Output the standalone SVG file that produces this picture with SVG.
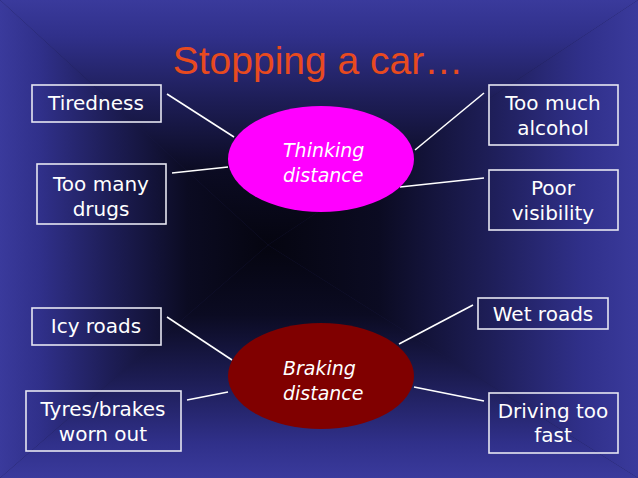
<svg xmlns="http://www.w3.org/2000/svg" width="638" height="478" viewBox="0 0 638 478">
<style>
.box{fill:none;stroke:#E6E6F2;stroke-width:1.6}
.lbl{font-family:"DejaVu Sans",sans-serif;font-size:20px;fill:#FFFFFF;text-anchor:middle}
.el{font-family:"DejaVu Sans",sans-serif;font-size:19px;font-style:italic;fill:#FFFFFF}
.con line{stroke:#FFFFFF;stroke-width:1.6}
</style>
<defs>
<linearGradient id="bg">
<stop offset="0" stop-color="#050510"/>
<stop offset="0.3" stop-color="#0B0B22"/>
<stop offset="0.6" stop-color="#1E1E58"/>
<stop offset="0.85" stop-color="#30308A"/>
<stop offset="1" stop-color="#3A3A9C"/>
</linearGradient>
<linearGradient id="gt" href="#bg" gradientUnits="userSpaceOnUse" x1="0" y1="245" x2="0" y2="0"/>
<linearGradient id="gb" href="#bg" gradientUnits="userSpaceOnUse" x1="0" y1="245" x2="0" y2="478"/>
<linearGradient id="gl" href="#bg" gradientUnits="userSpaceOnUse" x1="268" y1="0" x2="0" y2="0"/>
<linearGradient id="gr" href="#bg" gradientUnits="userSpaceOnUse" x1="268" y1="0" x2="638" y2="0"/>
</defs>
<g id="background">
<rect x="0" y="0" width="638" height="478" fill="#1A1A4A"/>
<polygon points="0,0 638,0 268,245" fill="url(#gt)"/>
<polygon points="0,478 638,478 268,245" fill="url(#gb)"/>
<polygon points="0,0 0,478 268,245" fill="url(#gl)"/>
<polygon points="638,0 638,478 268,245" fill="url(#gr)"/>
</g>
<text id="title" x="318" y="74" font-family="Liberation Sans, Arial, sans-serif" font-size="39" fill="#E84A1F" text-anchor="middle">Stopping a car…</text>
<g id="connectors" class="con">
<line x1="167" y1="94" x2="234" y2="137"/>
<line x1="172" y1="173" x2="228" y2="167"/>
<line x1="415" y1="150" x2="484" y2="93"/>
<line x1="400" y1="187" x2="484" y2="178"/>
<line x1="167" y1="317" x2="232" y2="360"/>
<line x1="187" y1="400" x2="228" y2="392"/>
<line x1="399" y1="344" x2="473" y2="305"/>
<line x1="414" y1="387" x2="484" y2="401"/>
</g>
<g id="thinking">
<ellipse cx="321" cy="159" rx="93" ry="53" fill="#FF00FF"/>
<text class="el" x="283" y="157">Thinking</text>
<text class="el" x="283" y="182">distance</text>
</g>
<g id="braking">
<ellipse cx="321" cy="376" rx="93" ry="53" fill="#800000"/>
<text class="el" x="283" y="375">Braking</text>
<text class="el" x="283" y="400">distance</text>
</g>
<g id="tiredness">
<rect class="box" x="32" y="85" width="129" height="37"/>
<text class="lbl" x="96" y="110">Tiredness</text>
</g>
<g id="drugs">
<rect class="box" x="37" y="164" width="129" height="60"/>
<text class="lbl" x="101" y="191">Too many</text>
<text class="lbl" x="101" y="216">drugs</text>
</g>
<g id="alcohol">
<rect class="box" x="489" y="85" width="129" height="60"/>
<text class="lbl" x="553" y="110">Too much</text>
<text class="lbl" x="553" y="135">alcohol</text>
</g>
<g id="visibility">
<rect class="box" x="489" y="170" width="129" height="60"/>
<text class="lbl" x="553" y="195">Poor</text>
<text class="lbl" x="553" y="220">visibility</text>
</g>
<g id="icy">
<rect class="box" x="32" y="308" width="129" height="37"/>
<text class="lbl" x="96" y="333">Icy roads</text>
</g>
<g id="tyres">
<rect class="box" x="26" y="391" width="155" height="60"/>
<text class="lbl" x="103" y="416">Tyres/brakes</text>
<text class="lbl" x="103" y="441">worn out</text>
</g>
<g id="wet">
<rect class="box" x="478" y="298" width="130" height="31"/>
<text class="lbl" x="543" y="321">Wet roads</text>
</g>
<g id="driving">
<rect class="box" x="489" y="393" width="129" height="60"/>
<text class="lbl" x="553" y="418">Driving too</text>
<text class="lbl" x="553" y="442">fast</text>
</g>
</svg>
